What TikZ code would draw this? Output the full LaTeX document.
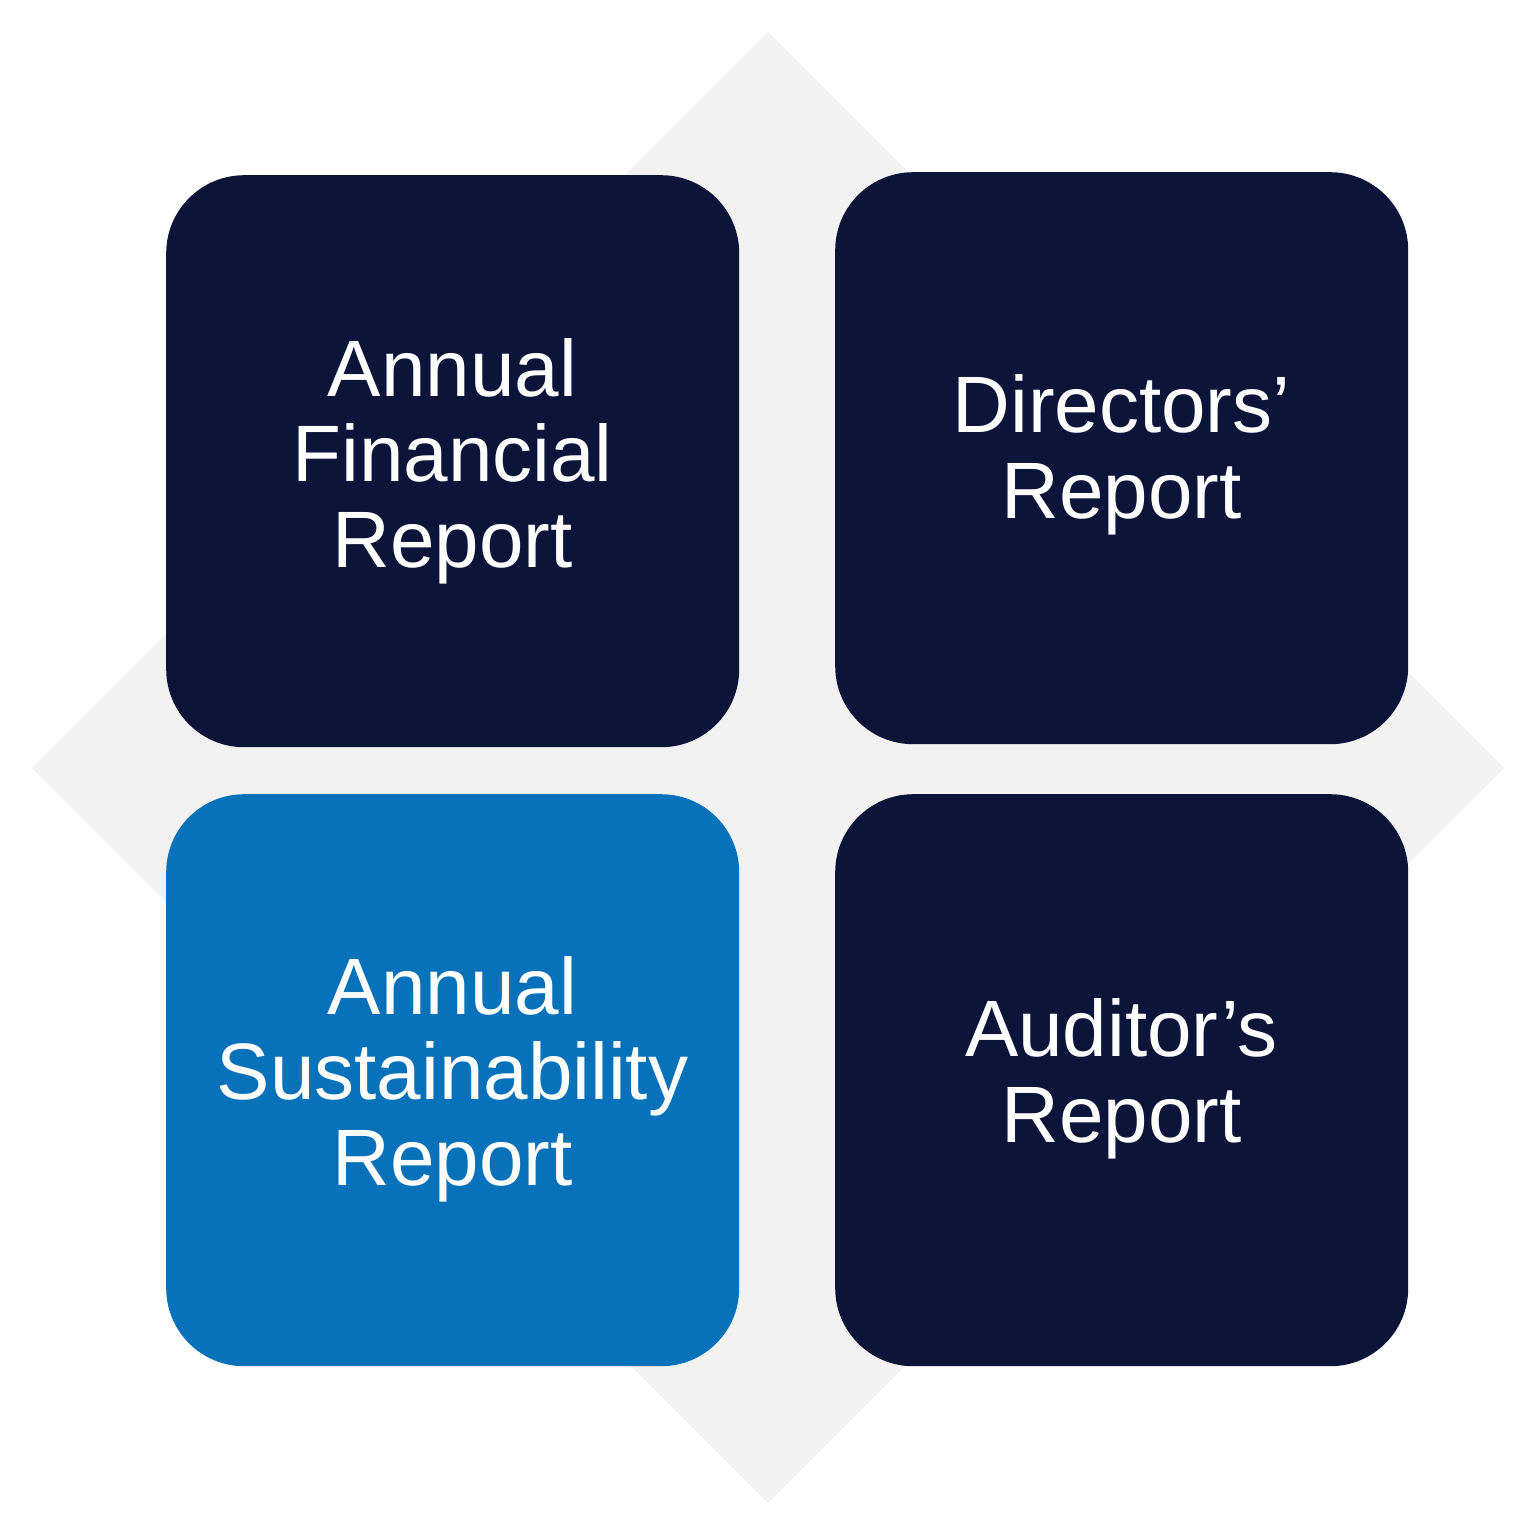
\documentclass[tikz,border=0pt]{standalone}
\usepackage{fontspec}
\setmainfont{Liberation Sans}
\definecolor{navy}{HTML}{0C1439}
\definecolor{sky}{HTML}{0772BA}
\definecolor{bggray}{HTML}{F2F2F2}
\begin{document}
\begin{tikzpicture}[x=1pt,y=-1pt,
  card/.style={rectangle, rounded corners=78pt, minimum width=573pt, minimum height=572pt, inner sep=0pt, anchor=north west},
  lbl/.style={text=white, align=center, anchor=base, inner sep=0pt, font=\fontsize{80}{85.5}\selectfont}]
\useasboundingbox (0,0) rectangle (1536,1521);
\fill[bggray] (768,32) -- (1504,768) -- (768,1503) -- (32,768) -- cycle;
\node[card, fill=navy] (afr) at (166,175) {};
\node[card, fill=navy] (dir) at (835,172) {};
\node[card, fill=sky]  (asr) at (166,794) {};
\node[card, fill=navy] (aud) at (835,794) {};
\node[lbl] (afrt) at (452.5,567) {Annual\\Financial\\Report};
\node[lbl] (dirt) at (1121.5,518) {Directors’\\Report};
\node[lbl] (asrt) at (452.5,1185) {Annual\\Sustainability\\Report};
\node[lbl] (audt) at (1121.5,1142) {Auditor’s\\Report};
\end{tikzpicture}
\end{document}
